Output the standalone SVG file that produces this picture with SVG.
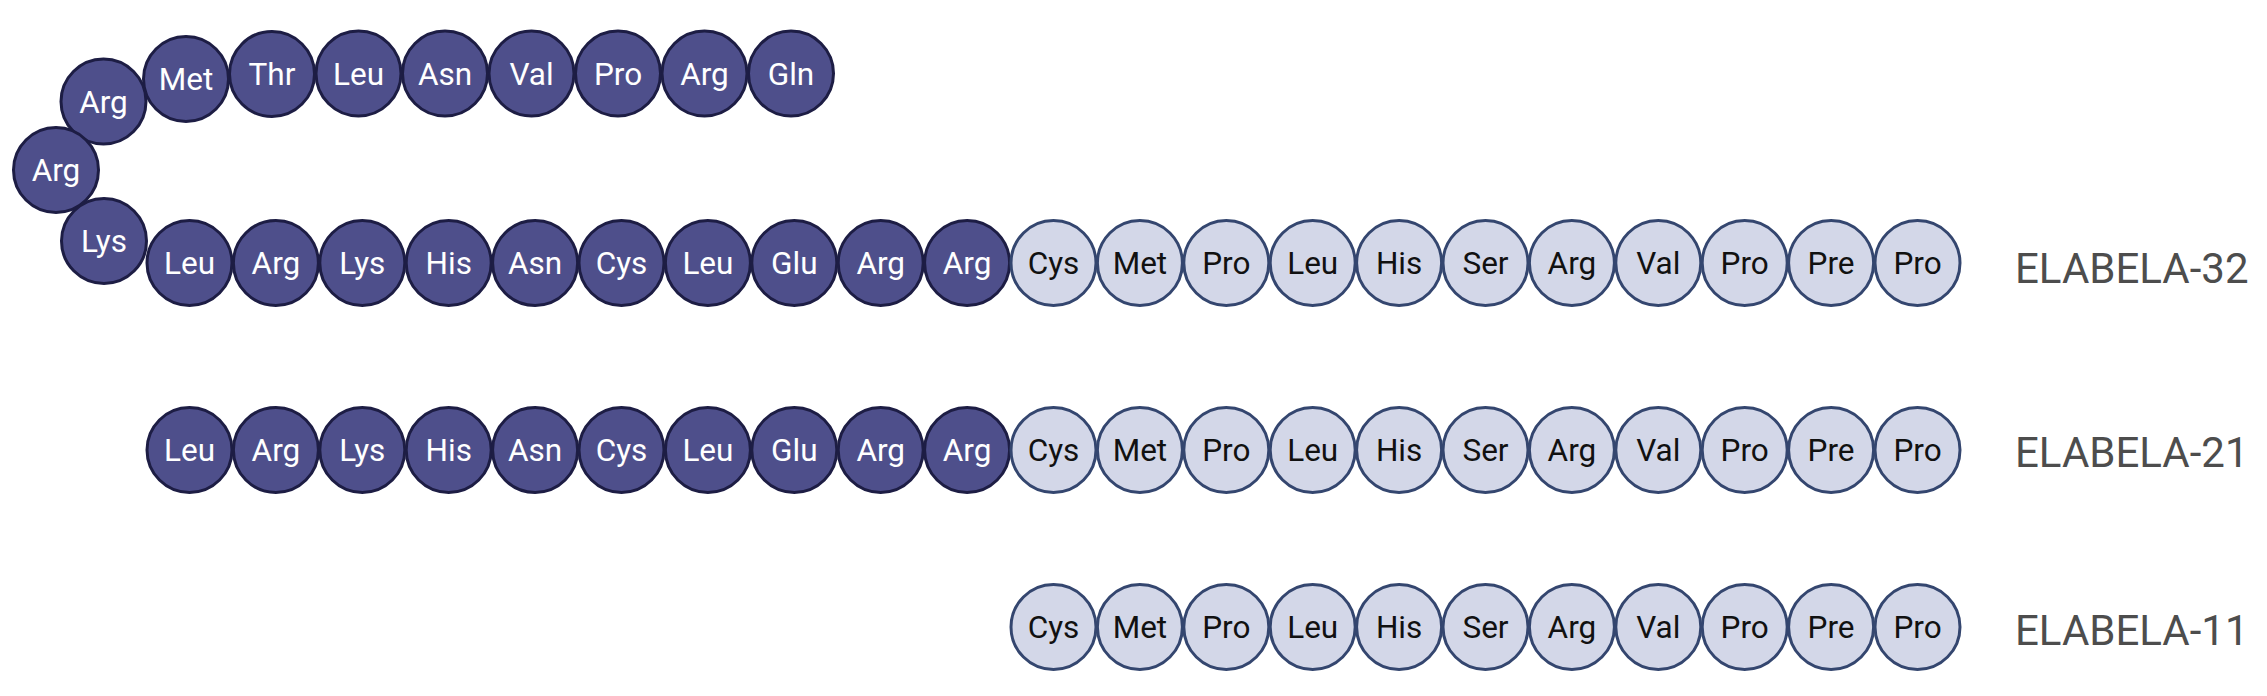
<svg xmlns="http://www.w3.org/2000/svg" width="2267" height="696" viewBox="0 0 2267 696">
<style>
.d{fill:#4e4f8b;stroke:#1d1d44;stroke-width:3}
.l{fill:#d3d7e8;stroke:#34466f;stroke-width:3}
.dt{fill:#ffffff;font-family:Roboto,"Liberation Sans",sans-serif;font-size:31.5px;text-anchor:middle}
.lt{fill:#111111;font-family:Roboto,"Liberation Sans",sans-serif;font-size:31.5px;text-anchor:middle}
.lab{fill:#4d4d4d;font-family:Roboto,"Liberation Sans",sans-serif;font-size:42px}
</style>
<rect width="2267" height="696" fill="#ffffff"/>
<g id="connectors"/>
<!-- ELABELA-32 N-terminal loop -->
<g id="e32-gln"><circle class="d" cx="791" cy="73.5" r="42.5"/><text class="dt" x="791" y="84.5">Gln</text></g>
<g id="e32-arg-top"><circle class="d" cx="704.5" cy="73.5" r="42.5"/><text class="dt" x="704.5" y="84.5">Arg</text></g>
<g id="e32-pro-top"><circle class="d" cx="618" cy="73.5" r="42.5"/><text class="dt" x="618" y="84.5">Pro</text></g>
<g id="e32-val-top"><circle class="d" cx="531.5" cy="73.5" r="42.5"/><text class="dt" x="531.5" y="84.5">Val</text></g>
<g id="e32-asn-top"><circle class="d" cx="445" cy="73.5" r="42.5"/><text class="dt" x="445" y="84.5">Asn</text></g>
<g id="e32-leu-top"><circle class="d" cx="358.5" cy="73.5" r="42.5"/><text class="dt" x="358.5" y="84.5">Leu</text></g>
<g id="e32-thr"><circle class="d" cx="272" cy="74" r="42.5"/><text class="dt" x="272" y="85">Thr</text></g>
<g id="e32-met"><circle class="d" cx="186" cy="79" r="42.5"/><text class="dt" x="186" y="90">Met</text></g>
<g id="e32-arg-a"><circle class="d" cx="103.5" cy="101.5" r="42.5"/><text class="dt" x="103.5" y="112.5">Arg</text></g>
<g id="e32-arg-b"><circle class="d" cx="56" cy="170" r="42.5"/><text class="dt" x="56" y="181">Arg</text></g>
<g id="e32-lys-a"><circle class="d" cx="104" cy="241" r="42.5"/><text class="dt" x="104" y="252">Lys</text></g>
<!-- ELABELA-32 main row -->
<g id="e32-r1"><circle class="d" cx="189.5" cy="263" r="42.5"/><text class="dt" x="189.5" y="274">Leu</text></g>
<g id="e32-r2"><circle class="d" cx="275.9" cy="263" r="42.5"/><text class="dt" x="275.9" y="274">Arg</text></g>
<g id="e32-r3"><circle class="d" cx="362.3" cy="263" r="42.5"/><text class="dt" x="362.3" y="274">Lys</text></g>
<g id="e32-r4"><circle class="d" cx="448.7" cy="263" r="42.5"/><text class="dt" x="448.7" y="274">His</text></g>
<g id="e32-r5"><circle class="d" cx="535.1" cy="263" r="42.5"/><text class="dt" x="535.1" y="274">Asn</text></g>
<g id="e32-r6"><circle class="d" cx="621.5" cy="263" r="42.5"/><text class="dt" x="621.5" y="274">Cys</text></g>
<g id="e32-r7"><circle class="d" cx="707.9" cy="263" r="42.5"/><text class="dt" x="707.9" y="274">Leu</text></g>
<g id="e32-r8"><circle class="d" cx="794.3" cy="263" r="42.5"/><text class="dt" x="794.3" y="274">Glu</text></g>
<g id="e32-r9"><circle class="d" cx="880.7" cy="263" r="42.5"/><text class="dt" x="880.7" y="274">Arg</text></g>
<g id="e32-r10"><circle class="d" cx="967.1" cy="263" r="42.5"/><text class="dt" x="967.1" y="274">Arg</text></g>
<g id="e32-r11"><circle class="l" cx="1053.5" cy="263" r="42.5"/><text class="lt" x="1053.5" y="274">Cys</text></g>
<g id="e32-r12"><circle class="l" cx="1139.9" cy="263" r="42.5"/><text class="lt" x="1139.9" y="274">Met</text></g>
<g id="e32-r13"><circle class="l" cx="1226.3" cy="263" r="42.5"/><text class="lt" x="1226.3" y="274">Pro</text></g>
<g id="e32-r14"><circle class="l" cx="1312.7" cy="263" r="42.5"/><text class="lt" x="1312.7" y="274">Leu</text></g>
<g id="e32-r15"><circle class="l" cx="1399.1" cy="263" r="42.5"/><text class="lt" x="1399.1" y="274">His</text></g>
<g id="e32-r16"><circle class="l" cx="1485.5" cy="263" r="42.5"/><text class="lt" x="1485.5" y="274">Ser</text></g>
<g id="e32-r17"><circle class="l" cx="1571.9" cy="263" r="42.5"/><text class="lt" x="1571.9" y="274">Arg</text></g>
<g id="e32-r18"><circle class="l" cx="1658.3" cy="263" r="42.5"/><text class="lt" x="1658.3" y="274">Val</text></g>
<g id="e32-r19"><circle class="l" cx="1744.7" cy="263" r="42.5"/><text class="lt" x="1744.7" y="274">Pro</text></g>
<g id="e32-r20"><circle class="l" cx="1831.1" cy="263" r="42.5"/><text class="lt" x="1831.1" y="274">Pre</text></g>
<g id="e32-r21"><circle class="l" cx="1917.5" cy="263" r="42.5"/><text class="lt" x="1917.5" y="274">Pro</text></g>
<g id="label-e32"><text class="lab" x="2015" y="283">ELABELA-32</text></g>
<!-- ELABELA-21 -->
<g id="e21-r1"><circle class="d" cx="189.5" cy="450" r="42.5"/><text class="dt" x="189.5" y="461">Leu</text></g>
<g id="e21-r2"><circle class="d" cx="275.9" cy="450" r="42.5"/><text class="dt" x="275.9" y="461">Arg</text></g>
<g id="e21-r3"><circle class="d" cx="362.3" cy="450" r="42.5"/><text class="dt" x="362.3" y="461">Lys</text></g>
<g id="e21-r4"><circle class="d" cx="448.7" cy="450" r="42.5"/><text class="dt" x="448.7" y="461">His</text></g>
<g id="e21-r5"><circle class="d" cx="535.1" cy="450" r="42.5"/><text class="dt" x="535.1" y="461">Asn</text></g>
<g id="e21-r6"><circle class="d" cx="621.5" cy="450" r="42.5"/><text class="dt" x="621.5" y="461">Cys</text></g>
<g id="e21-r7"><circle class="d" cx="707.9" cy="450" r="42.5"/><text class="dt" x="707.9" y="461">Leu</text></g>
<g id="e21-r8"><circle class="d" cx="794.3" cy="450" r="42.5"/><text class="dt" x="794.3" y="461">Glu</text></g>
<g id="e21-r9"><circle class="d" cx="880.7" cy="450" r="42.5"/><text class="dt" x="880.7" y="461">Arg</text></g>
<g id="e21-r10"><circle class="d" cx="967.1" cy="450" r="42.5"/><text class="dt" x="967.1" y="461">Arg</text></g>
<g id="e21-r11"><circle class="l" cx="1053.5" cy="450" r="42.5"/><text class="lt" x="1053.5" y="461">Cys</text></g>
<g id="e21-r12"><circle class="l" cx="1139.9" cy="450" r="42.5"/><text class="lt" x="1139.9" y="461">Met</text></g>
<g id="e21-r13"><circle class="l" cx="1226.3" cy="450" r="42.5"/><text class="lt" x="1226.3" y="461">Pro</text></g>
<g id="e21-r14"><circle class="l" cx="1312.7" cy="450" r="42.5"/><text class="lt" x="1312.7" y="461">Leu</text></g>
<g id="e21-r15"><circle class="l" cx="1399.1" cy="450" r="42.5"/><text class="lt" x="1399.1" y="461">His</text></g>
<g id="e21-r16"><circle class="l" cx="1485.5" cy="450" r="42.5"/><text class="lt" x="1485.5" y="461">Ser</text></g>
<g id="e21-r17"><circle class="l" cx="1571.9" cy="450" r="42.5"/><text class="lt" x="1571.9" y="461">Arg</text></g>
<g id="e21-r18"><circle class="l" cx="1658.3" cy="450" r="42.5"/><text class="lt" x="1658.3" y="461">Val</text></g>
<g id="e21-r19"><circle class="l" cx="1744.7" cy="450" r="42.5"/><text class="lt" x="1744.7" y="461">Pro</text></g>
<g id="e21-r20"><circle class="l" cx="1831.1" cy="450" r="42.5"/><text class="lt" x="1831.1" y="461">Pre</text></g>
<g id="e21-r21"><circle class="l" cx="1917.5" cy="450" r="42.5"/><text class="lt" x="1917.5" y="461">Pro</text></g>
<g id="label-e21"><text class="lab" x="2015" y="467">ELABELA-21</text></g>
<!-- ELABELA-11 -->
<g id="e11-r1"><circle class="l" cx="1053.5" cy="627" r="42.5"/><text class="lt" x="1053.5" y="638">Cys</text></g>
<g id="e11-r2"><circle class="l" cx="1139.9" cy="627" r="42.5"/><text class="lt" x="1139.9" y="638">Met</text></g>
<g id="e11-r3"><circle class="l" cx="1226.3" cy="627" r="42.5"/><text class="lt" x="1226.3" y="638">Pro</text></g>
<g id="e11-r4"><circle class="l" cx="1312.7" cy="627" r="42.5"/><text class="lt" x="1312.7" y="638">Leu</text></g>
<g id="e11-r5"><circle class="l" cx="1399.1" cy="627" r="42.5"/><text class="lt" x="1399.1" y="638">His</text></g>
<g id="e11-r6"><circle class="l" cx="1485.5" cy="627" r="42.5"/><text class="lt" x="1485.5" y="638">Ser</text></g>
<g id="e11-r7"><circle class="l" cx="1571.9" cy="627" r="42.5"/><text class="lt" x="1571.9" y="638">Arg</text></g>
<g id="e11-r8"><circle class="l" cx="1658.3" cy="627" r="42.5"/><text class="lt" x="1658.3" y="638">Val</text></g>
<g id="e11-r9"><circle class="l" cx="1744.7" cy="627" r="42.5"/><text class="lt" x="1744.7" y="638">Pro</text></g>
<g id="e11-r10"><circle class="l" cx="1831.1" cy="627" r="42.5"/><text class="lt" x="1831.1" y="638">Pre</text></g>
<g id="e11-r11"><circle class="l" cx="1917.5" cy="627" r="42.5"/><text class="lt" x="1917.5" y="638">Pro</text></g>
<g id="label-e11"><text class="lab" x="2015" y="645">ELABELA-11</text></g>
</svg>
